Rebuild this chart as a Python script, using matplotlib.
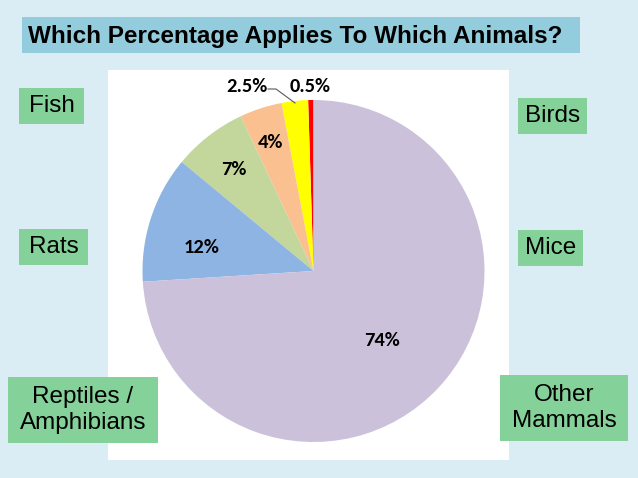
import matplotlib.pyplot as plt
from matplotlib.patches import Rectangle

# slice data, counter-clockwise from 12 o'clock
pcts = [0.5, 2.5, 4, 7, 12, 74]
pct_labels = ['0.5%', '2.5%', '4%', '7%', '12%', '74%']
colors = ['#FF0000', '#FFFF00', '#FAC090', '#C3D69B', '#8DB4E2', '#CCC1DA']

title = 'Which Percentage Applies To Which Animals?'
animals = ['Fish', 'Birds', 'Rats', 'Mice', 'Reptiles /\nAmphibians', 'Other\nMammals']

W, H = 638, 478
fig = plt.figure(figsize=(W / 100, H / 100), dpi=100)
fig.patch.set_facecolor('#DAEDF4')
ax = fig.add_axes([0, 0, 1, 1])

def box(x0, y0, x1, y1, color):
    # pixel box, y measured from top
    ax.add_patch(Rectangle((x0, H - y1), x1 - x0, y1 - y0, facecolor=color,
                           edgecolor='none', zorder=1))

# title bar
box(22, 17, 580, 53, '#93CDDD')
ax.text(295, H - 36, title, ha='center', va='center', fontsize=17.5,
        fontweight='bold', family='Liberation Sans', zorder=3)

# white chart area
box(108, 70, 509, 460, 'white')

# pie
cx, cy, r = 313.5, H - 271, 171
wedges, _ = ax.pie(pcts, colors=colors, startangle=90, counterclock=True,
                   center=(cx, cy), radius=r, frame=True,
                   wedgeprops=dict(linewidth=0, zorder=2))
ax.set_xlim(0, W)
ax.set_ylim(0, H)
ax.set_aspect('equal')
ax.axis('off')

# label positions (pixels from top-left)
label_pos = [(310, 86), (247, 86), (271, 142), (234, 169), (202, 247), (382, 341)]
for lab, (x, y) in zip(pct_labels, label_pos):
    ax.text(x, H - y, lab, ha='center', va='center', fontsize=14.8,
            fontweight='bold', family='Carlito', zorder=3)
# leader line for 2.5%
ax.plot([268, 276, 295], [H - 89, H - 89, H - 103], color='#595959', lw=0.8,
        zorder=3)

# green animal boxes
green = '#84D19A'
boxes = [(19, 88, 84, 124), (518, 98, 587, 134), (19, 229, 88, 265),
         (518, 230, 583, 266), (8, 377, 158, 443), (500, 375, 628, 441)]
for (x0, y0, x1, y1), name in zip(boxes, animals):
    box(x0, y0, x1, y1, green)
    ax.text((x0 + x1) / 2, H - (y0 + y1) / 2, name, ha='center',
            va='center', fontsize=17.5, family='Liberation Sans',
            linespacing=1.25, zorder=3)

plt.savefig('out.png', dpi=100, facecolor=fig.get_facecolor())
